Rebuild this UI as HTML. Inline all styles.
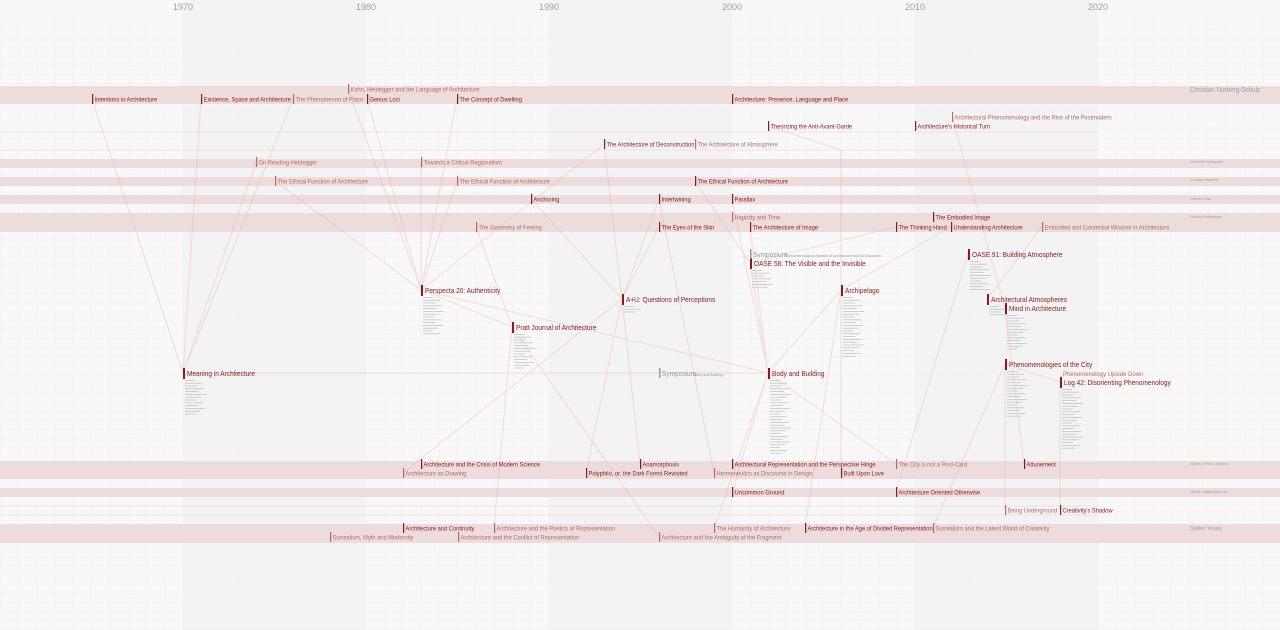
<!DOCTYPE html>
<html><head><meta charset="utf-8"><style>
html,body{margin:0;padding:0;background:#f8f8f8;}
svg{display:block;font-family:"Liberation Sans",sans-serif;}
</style></head><body>
<svg id="s" width="1280" height="630" viewBox="0 0 1280 630" xmlns="http://www.w3.org/2000/svg">
<rect width="1280" height="630" fill="#f8f8f8"/>
<rect x="183" y="0" width="183" height="630" fill="#f3f3f3"/>
<rect x="549" y="0" width="183" height="630" fill="#f3f3f3"/>
<rect x="915" y="0" width="183" height="630" fill="#f3f3f3"/>
<g id="grid"></g>
<g fill="#a0a0a0" font-size="9" text-anchor="middle">
<text x="183" y="10">1970</text><text x="366" y="10">1980</text><text x="549" y="10">1990</text><text x="732" y="10">2000</text><text x="915" y="10">2010</text><text x="1098" y="10">2020</text>
</g>
<g fill="#ecdcdc">
<rect x="0" y="86" width="1280" height="18"/>
<rect x="0" y="159" width="1280" height="9"/>
<rect x="0" y="177" width="1280" height="9"/>
<rect x="0" y="195" width="1280" height="9"/>
<rect x="0" y="213" width="1280" height="19"/>
<rect x="0" y="461" width="1280" height="18"/>
<rect x="0" y="488" width="1280" height="9"/>
<rect x="0" y="524" width="1280" height="19"/>
</g>
<g stroke="#f0e2e2" stroke-width="1">
<line x1="0" y1="132" x2="1098" y2="132"/><line x1="0" y1="150" x2="1098" y2="150"/>
<line x1="0" y1="506" x2="1098" y2="506"/><line x1="0" y1="515" x2="1098" y2="515"/>
</g>
<g id="links" stroke="#e6a6a6" stroke-width="1.2" opacity="0.3" fill="none"></g>
<g id="items"></g>
<g fill="#a0a0a0" font-size="4">
<text x="1190" y="92" font-size="7" transform="translate(1190,92) scale(0.9,1) translate(-1190,-92)">Christian Norberg-Schulz</text>
<text x="1190" y="163">Kenneth Frampton</text>
<text x="1190" y="181">Karsten Harries</text>
<text x="1190" y="200">Steven Holl</text>
<text x="1190" y="218">Juhani Pallasmaa</text>
<text x="1190" y="465">Alberto Pérez-Gómez</text>
<text x="1190" y="493">David Leatherbarrow</text>
<text x="1190" y="530" font-size="5">Dalibor Vesely</text>
</g>
</svg>
<script>
var NS="http://www.w3.org/2000/svg";
function el(p,t,a,txt){var e=document.createElementNS(NS,t);for(var k in a)e.setAttribute(k,a[k]);if(txt)e.textContent=txt;p.appendChild(e);return e;}
function tx(p,x,y,s,fs,c,sx){return el(p,"text",{x:0,y:0,"font-size":fs,fill:c,transform:"translate("+x+","+y+") scale("+(sx||0.87)+",1)"},s);}
var g=document.getElementById("grid");
for(var x=0;x<1280;x+=18.3)el(g,"line",{x1:x,y1:20,x2:x,y2:630,stroke:"#f0f0f0","stroke-width":0.5});
for(var y=20;y<630;y+=9.1)el(g,"line",{x1:0,y1:y,x2:1280,y2:y,stroke:"#f1f1f1","stroke-width":0.5});
var D="#8b1a1a",L="#b86a6a",G="#999";
var items=[
[348,89,"Kahn, Heidegger and the Language of Architecture","l"],
[92,99,"Intentions in Architecture","d"],[201,99,"Existence, Space and Architecture","d"],[293,99,"The Phenomenon of Place","l"],[367,99,"Genius Loci","d"],[457,99,"The Concept of Dwelling","d"],[732,99,"Architecture: Presence, Language and Place","d"],
[952,117,"Architectural Phenomenology and the Rise of the Postmodern","l"],
[768,126,"Theorizing the Anti-Avant-Garde","d"],[915,126,"Architecture's Historical Turn","d"],
[604,144,"The Architecture of Deconstruction","d"],[695,144,"The Architecture of Atmosphere","l"],
[256,162,"On Reading Heidegger","l"],[421,162,"Towards a Critical Regionalism","l"],
[275,181,"The Ethical Function of Architecture","l"],[457,181,"The Ethical Function of Architecture","l"],[695,181,"The Ethical Function of Architecture","d"],
[531,199,"Anchoring","d"],[659,199,"Intertwining","d"],[732,199,"Parallax","d"],
[732,217,"Haptcity and Time","l"],[933,217,"The Embodied Image","d"],
[476,227,"The Geometry of Feeling","l"],[659,227,"The Eyes of the Skin","d"],[750,227,"The Architecture of Image","d"],[896,227,"The Thinking Hand","d"],[951,227,"Understanding Architecture","d"],[1042,227,"Embodied and Existential Wisdom in Architecture","l"],
[421,464,"Architecture and the Crisis of Modern Science","d"],
[640,464,"Anamorphosis","d"],[732,464,"Architectural Representation and the Perspective Hinge","d"],[896,464,"The City is not a Post-Card","l"],[1024,464,"Attunement","d"],
[403,473,"Architecture as Drawing","l"],[586,473,"Polyphilo, or, the Dark Forest Revisited","d"],[714,473,"Hermeneutics as Discourse in Design","l"],[841,473,"Built Upon Love","d"],
[732,492,"Uncommon Ground","d"],[896,492,"Architecture Oriented Otherwise","d"],
[1005,510,"Being Underground","l"],[1060,510,"Creativity's Shadow","d"],
[403,528,"Architecture and Continuity","d"],[494,528,"Architecture and the Poetics of Representation","l"],[714,528,"The Humanity of Architecture","l"],[805,528,"Architecture in the Age of Divided Representation","d"],[933,528,"Surrealism and the Latent World of Creativity","l"],
[330,537,"Surrealism, Myth and Modernity","l"],[458,537,"Architecture and the Conflict of Representation","l"],[659,537,"Architecture and the Ambiguity of the Fragment","l"]
];
var cols=[
[183,373,"Meaning in Architecture",13],[421,290,"Perspecta 20: Authenticity",14],[512,327,"Pratt Journal of Architecture",13],[622,299,"A+U: Questions of Perceptions",3],
[750,263,"OASE 58: The Visible and the Invisible",7],[841,290,"Archipelago",22],[768,373,"Body and Building",27],[968,254,"OASE 91: Building Atmosphere",11],
[987,299,"Architectural Atmospheres",4],[1005,308,"Mind in Architecture",13],[1005,364,"Phenomenologies of the City",17],[1060,382,"Log 42: Disorienting Phenomenology",22]
];
var links=[[92,99,183,373],[201,99,183,373],[256,162,183,373],[293,99,183,373],[183,373,768,373],
[275,181,421,290],[367,99,421,290],[457,99,421,290],[421,162,421,290],[457,181,421,290],[604,144,421,290],[348,89,421,290],
[531,199,622,299],[659,199,622,299],[659,227,622,299],[604,144,622,299],[476,227,512,327],
[421,290,768,373],[512,327,659,537],[622,299,640,464],[622,299,586,473],[512,327,494,528],[421,290,512,327],
[750,263,768,373],[750,263,895,227],[841,290,768,373],[841,290,805,528],[841,150,841,473],[768,126,841,150],
[768,373,714,528],[768,373,732,492],[768,373,896,464],[968,254,896,492],[1005,364,933,528],[1005,364,1005,510],
[1060,382,1060,510],[1005,308,1024,464],[952,117,1005,308],[987,299,1042,227],[732,199,768,373],[695,181,750,263],
[403,473,622,299],[841,290,951,227],[750,227,768,373],[659,199,714,473],[1005,364,1060,382]];
var lg=document.getElementById("links");
links.forEach(function(l){el(lg,"line",{x1:l[0],y1:l[1],x2:l[2],y2:l[3]});});
var it=document.getElementById("items");
items.forEach(function(i){
  var c=i[3]=="d"?D:(i[3]=="l"?L:G);
  el(it,"rect",{x:i[0],y:i[1]-5,width:1.2,height:10,fill:c});
  tx(it,i[0]+2.5,i[1]+2.5,i[2],6.6,c);
});
cols.forEach(function(c){
  el(it,"rect",{x:c[0],y:c[1]-5,width:2,height:11,fill:D});
  tx(it,c[0]+4,c[1]+3,c[2],7.4,D,0.88);
  for(var k=0;k<c[3];k++){
    el(it,"rect",{x:c[0]+2,y:c[1]+7+k*2.8,width:10+((k*7)%12),height:0.8,fill:"#c4c4c4"});
  }
});
el(it,"rect",{x:659,y:368,width:1.5,height:10,fill:G});
tx(it,662,376,"Symposium:",7.4,G,0.88);
tx(it,694,376,"Body and Building",4,G,0.9);
el(it,"rect",{x:750,y:249,width:1.5,height:10,fill:G});
tx(it,753,257,"Symposium:",7.4,G,0.88);
tx(it,785,257,"Phenomenological Aspects of Architecture and its Education",4,G,0.9);
tx(it,1063,376,"Phenomenology Upside Down",6.8,L,0.88);
</script>
</body></html>
